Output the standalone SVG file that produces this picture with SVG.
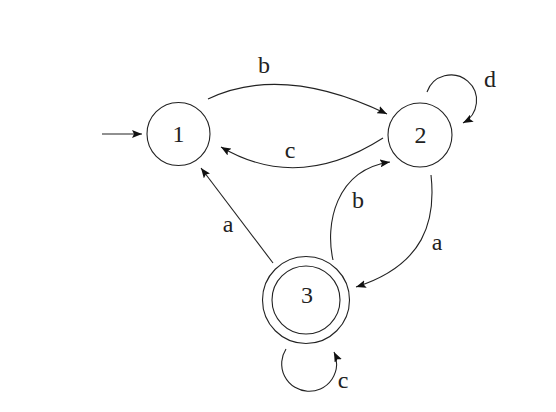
<svg xmlns="http://www.w3.org/2000/svg" width="556" height="412" viewBox="0 0 556 412">
<style>
.st{fill:none;stroke:#222;stroke-width:1.1}
.e{fill:none;stroke:#222;stroke-width:1.1;marker-end:url(#ah)}
text{font-family:"Liberation Serif","DejaVu Serif",serif;font-size:24px;fill:#222;text-anchor:middle}
</style>
<defs>
<marker id="ah" viewBox="0 0 10 8" refX="10" refY="4" markerWidth="10" markerHeight="8" markerUnits="userSpaceOnUse" orient="auto">
<path d="M0,0 L10,4 L0,8 L2,4 Z" fill="#111"/>
</marker>
</defs>
<rect width="556" height="412" fill="#fff"/>
<g id="connectors">
<path class="e" d="M102,134 L142,134"/>
<path class="e" d="M208,99 Q282.5,63.5 387,114"/>
<path class="e" d="M383,138 Q298,192.5 221,147"/>
<path class="e" d="M427,92 A25.5,25.5 0 1 1 463,123"/>
<path class="e" d="M273,263 L201,168"/>
<path class="e" d="M333,260 C325,225 335,170 390,162"/>
<path class="e" d="M431,175 C436,220 425,265 356,287"/>
<path class="e" d="M286,349 A27.5,27.5 0 1 0 334,352"/>
<text x="264" y="73">b</text>
<text x="290" y="158">c</text>
<text x="490" y="87">d</text>
<text x="228" y="232">a</text>
<text x="358" y="208">b</text>
<text x="437" y="250">a</text>
<text x="343" y="388">c</text>
</g>
<g id="node1">
<circle class="st" cx="178.5" cy="134" r="31.5"/>
<text x="178.5" y="142">1</text>
</g>
<g id="node2">
<circle class="st" cx="420" cy="135" r="32"/>
<text x="420.5" y="143">2</text>
</g>
<g id="node3">
<circle class="st" cx="306" cy="300" r="43.5"/>
<circle class="st" cx="306" cy="300" r="34"/>
<text x="307" y="303">3</text>
</g>
</svg>
